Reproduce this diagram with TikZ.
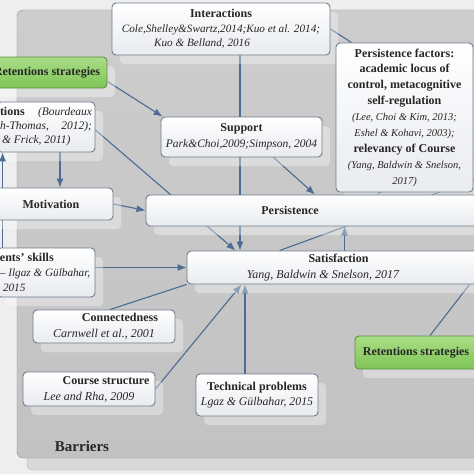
\documentclass[tikz,border=0pt]{standalone}
\usepackage{fontspec}
\setmainfont{Liberation Serif}
\usetikzlibrary{arrows.meta,positioning,calc,shadows,backgrounds}

\definecolor{outerbg}{HTML}{EEEEEE}
\definecolor{paneltop}{HTML}{CDCDCD}
\definecolor{panelbottom}{HTML}{C2C2C2}
\definecolor{panelline}{HTML}{8E8E8E}
\definecolor{bandgray}{HTML}{D9D9D9}
\definecolor{boxline}{HTML}{6F7D8E}
\definecolor{boxbottom}{HTML}{E9EBEF}
\definecolor{greentop}{HTML}{A9DD86}
\definecolor{greenbottom}{HTML}{7FC556}
\definecolor{greenline}{HTML}{5E8F43}
\definecolor{linkblue}{HTML}{4C6C93}
\definecolor{textdark}{HTML}{262626}

\newcommand{\boxtitle}[1]{{\fontsize{12}{15.5}\selectfont\bfseries #1}}
\newcommand{\boxref}[1]{{\itshape #1}}
\newcommand{\smallref}[1]{{\fontsize{10.5}{15.9}\selectfont\itshape #1}}

\pgfdeclarelayer{edges}
\pgfsetlayers{background,edges,main}

\begin{document}
\begin{tikzpicture}[x=1pt, y=-1pt,
    box/.style={draw=boxline, line width=0.9pt, rounded corners=4pt,
      top color=white, bottom color=boxbottom, text=textdark,
      inner xsep=3pt, inner ysep=1pt, align=flush center,
      font=\fontsize{12}{15.5}\selectfont,
      drop shadow={shadow xshift=8pt, shadow yshift=-9pt, fill=white, opacity=0.35}},
    greenbox/.style={box, draw=greenline, top color=greentop, bottom color=greenbottom},
    link/.style={draw=linkblue, line width=1.1pt},
    arr/.style={link, -{Latex[length=9pt, width=7pt]}}]

  \useasboundingbox (0,0) rectangle (474,474);

  \begin{pgfonlayer}{background}
    \fill[outerbg] (0,0) rectangle (474,474);
    \draw[panelline!70, fill=bandgray, rounded corners=6pt] (27,20) rectangle (500,470);
    \draw[panelline, top color=paneltop, bottom color=panelbottom, rounded corners=6pt] (17,10) rectangle (495,458);
  \end{pgfonlayer}

  \node[box, text width=212pt, minimum height=52pt, font=\fontsize{11.2}{14.5}\selectfont] (inter) at (221,29)
    {\boxtitle{Interactions}\hspace*{82pt}\\ \boxref{Cole,Shelley\&Swartz,2014;Kuo et al. 2014;}\hspace*{10pt}\\ \boxref{Kuo \& Belland, 2016}\hspace*{38pt}};
  \node[greenbox, text width=114pt, minimum height=31pt] (retA) at (47,72.5) {\boxtitle{Retentions strategies}};
  \node[box, text width=92pt, minimum height=50pt, align=flush left, font=\fontsize{11.5}{14}\selectfont] (motivs) at (46,127)
    {\makebox[92pt][s]{\boxtitle{\llap{Expecta}tions}\hfil\boxref{(Bourdeaux}}\\
     \makebox[92pt][s]{\boxref{\llap{Schoenbac}h-Thomas,\hfil 2012);}}\\
     \makebox[92pt][s]{\boxref{\hspace*{2pt}\& Frick, 2011)}\hfil}};
  \node[box, text width=118pt, minimum height=32pt] (motiv) at (51,204) {\boxtitle{Motivation}};
  \node[box, text width=92pt, minimum height=49pt, align=flush left, font=\fontsize{11.2}{15}\selectfont] (skills) at (46,272.5)
    {\makebox[92pt][s]{\boxtitle{\llap{Stud}ents' skills}\hfil}\\
     \makebox[92pt][s]{\boxref{– Ilgaz \& Gülbahar,}\hfil}\\
     \makebox[92pt][s]{\boxref{\hspace*{3pt}2015}\hfil}};
  \node[box, text width=155pt, minimum height=40pt, font=\fontsize{11.5}{16}\selectfont] (support) at (241.5,137)
    {\boxtitle{Support}\hspace*{50pt}\\ \boxref{Park\&Choi,2009;Simpson, 2004}};
  \node[box, text width=131pt, minimum height=149pt, font=\fontsize{12}{15.9}\selectfont] (persfac) at (404.5,117.5)
    {\boxtitle{Persistence factors:}\\ \boxtitle{academic locus of}\\ \boxtitle{control, metacognitive}\\ \boxtitle{self-regulation}\\
     \smallref{(Lee, Choi \& Kim, 2013;}\\ \smallref{Eshel \& Kohavi, 2003);}\\ \boxtitle{relevancy of Course}\\
     \smallref{(Yang, Baldwin \& Snelson,}\\ \smallref{2017)}};
  \node[box, text width=338pt, minimum height=31pt] (pers) at (318,210.5) {\boxtitle{Persistence}\hspace*{56pt}};
  \node[box, text width=297pt, minimum height=33pt, font=\fontsize{12}{16}\selectfont] (satis) at (338.5,267.5)
    {\boxtitle{Satisfaction}\hspace*{19pt}\\ \boxref{Yang, Baldwin \& Snelson, 2017}\hspace*{31pt}};
  \node[box, text width=136pt, minimum height=33pt] (connect) at (104,326.5)
    {\hspace*{32pt}\boxtitle{Connectedness}\\ \boxref{Carnwell et al., 2001}};
  \node[box, text width=126pt, minimum height=34pt, font=\fontsize{12}{16}\selectfont] (course) at (89,389)
    {\hspace*{34pt}\boxtitle{Course structure}\\ \boxref{Lee and Rha, 2009}};
  \node[box, text width=116pt, minimum height=42pt, font=\fontsize{11.8}{15}\selectfont] (tech) at (257,395)
    {\boxtitle{Technical problems}\\ \boxref{Lgaz \& Gülbahar, 2015}};
  \node[greenbox, text width=124pt, minimum height=33pt] (retB) at (420,352.5) {\boxtitle{Retentions strategies}\hspace*{8pt}};
  \node[font=\fontsize{15}{18}\selectfont\bfseries, text=textdark] (barriers) at (82,446) {Barriers};

  \coordinate (mA) at ([xshift=6pt]motivs.south west);
  \coordinate (mB) at ([xshift=14pt]motivs.south);
  \coordinate (iA) at ([xshift=19pt]inter.south);
  \coordinate (tA) at ([xshift=-12pt]tech.north);
  \coordinate (sA) at ([xshift=158pt]satis.north west);
  \coordinate (rightA) at (492,173);

  \begin{pgfonlayer}{edges}
    \draw[arr] (mA |- motiv.north) -- (mA);
    \draw[link] (mA |- skills.north) -- (mA |- motiv.south);
    \draw[arr] (mB) -- (mB |- motiv.north);
    \draw[arr] (motiv.east) -- (pers.west);
    \draw[arr] ([yshift=-9pt]retA.east) -- ([xshift=2pt]support.north west);
    \draw[arr] (iA) -- (iA |- satis.north);
    \draw[link] (inter.east) -- ([xshift=16pt]persfac.north west);
    \draw[arr] ([xshift=32pt]support.south) -- ([xshift=-3pt]pers.north);
    \draw[arr] ([xshift=-12pt,yshift=11pt]persfac.south) -- ([xshift=59pt]pers.north);
    \draw[arr] ([yshift=-3pt]motivs.east) -- ([xshift=49pt]satis.north west);
    \draw[link] (rightA) -- ([xshift=93pt]satis.north west);
    \draw[arr] (sA) -- (sA |- pers.south);
    \draw[arr] (skills.east |- satis.west) -- (satis.west);
    \draw[link] ([xshift=6pt]connect.north) -- (satis.south west);
    \draw[arr] (course.east) -- ([xshift=55pt]satis.south west);
    \draw[arr] (tA) -- (tA |- satis.south);
    \draw[link] ([xshift=10pt]retB.north) -- ([xshift=283pt]satis.south west);
  \end{pgfonlayer}
\end{tikzpicture}
\end{document}
